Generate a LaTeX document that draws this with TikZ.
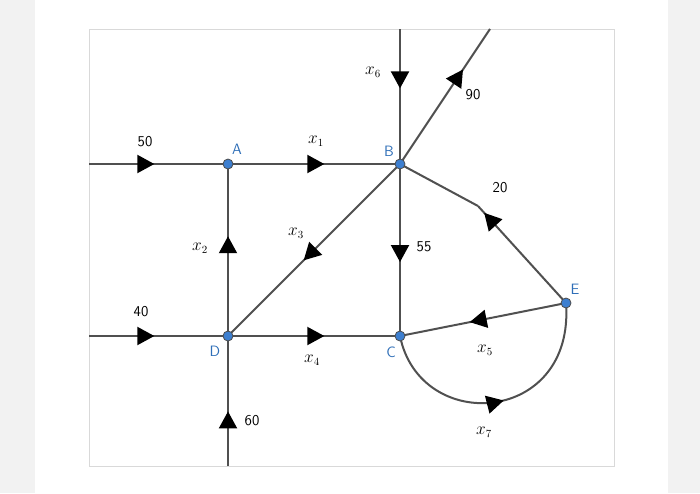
\documentclass[tikz,border=0pt]{standalone}
\usetikzlibrary{arrows.meta,decorations.markings}
\definecolor{edge}{HTML}{505050}
\definecolor{vblue}{HTML}{3D7FD0}
\definecolor{lblue}{HTML}{2F6FB8}
\tikzset{
  ln/.style={draw=edge,line width=2pt},
  flow/.style={ln,postaction={decorate},decoration={markings,mark=at position #1 with {\arrow[black]{Triangle[length=17pt,width=18pt]}}}},
  vert/.style={circle,fill=vblue,draw=black!70,line width=0.8pt,inner sep=0pt,minimum size=10pt},
  vlab/.style={text=lblue,font=\sffamily\fontsize{15}{17}\selectfont},
  nlab/.style={font=\sffamily\fontsize{15}{17}\selectfont},
  xlab/.style={font=\fontsize{16}{18}\selectfont}
}
\begin{document}
\begin{tikzpicture}[x=1pt,y=-1pt]
\useasboundingbox (0,0) rectangle (700,493);
\fill[black!5] (0,0) rectangle (700,493);
\fill[white] (35,0) rectangle (668,493);
\draw[black!15] (89,29) rectangle (614,466);
\coordinate (A) at (228,164);
\coordinate (B) at (400,164);
\coordinate (D) at (228,336);
\coordinate (C) at (400,336);
\coordinate (E) at (566,303);
\coordinate (K) at (478,206);
\coordinate (L1) at (89,164);
\coordinate (L2) at (89,336);
\coordinate (T6) at (400,29);
\coordinate (T9) at (490,29);
\coordinate (B6) at (228,466);
\draw[flow=0.47] (L1) -- (A);
\draw[flow=0.56] (A) -- (B);
\draw[flow=0.44] (T6) -- (B);
\draw[flow=0.70] (B) -- (T9);
\draw[flow=0.58] (D) -- (A);
\draw[flow=0.56] (B) -- (D);
\draw[flow=0.57] (B) -- (C);
\draw[flow=0.93] (E) -- (K);
\draw[ln] (K) -- (B);
\draw[flow=0.47] (L2) -- (D);
\draw[flow=0.56] (D) -- (C);
\draw[flow=0.58] (E) -- (C);
\draw[flow=0.52] (C) .. controls (420,435) and (575,425) .. (E);
\draw[flow=0.42] (B6) -- (D);
\foreach \n in {A,B,C,D,E} \node[vert] (v\n) at (\n) {};
\node[vlab] at (237,149) {A};
\node[vlab] at (389,151) {B};
\node[vlab] at (391,352) {C};
\node[vlab] at (215,351) {D};
\node[vlab] at (575,289) {E};
\node[nlab] at (145,142) {50};
\node[nlab] at (141,312) {40};
\node[nlab] at (252,421) {60};
\node[nlab] at (424,247) {55};
\node[nlab] at (500,188) {20};
\node[nlab] at (473,95) {90};
\node[xlab] at (316,141) {$x_1$};
\node[xlab] at (200,248) {$x_2$};
\node[xlab] at (296,233) {$x_3$};
\node[xlab] at (312,360) {$x_4$};
\node[xlab] at (485,350) {$x_5$};
\node[xlab] at (373,72) {$x_6$};
\node[xlab] at (484,432) {$x_7$};
\end{tikzpicture}
\end{document}
